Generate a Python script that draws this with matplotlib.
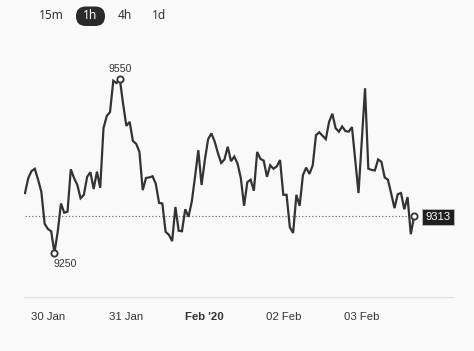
import matplotlib
matplotlib.use('Agg')
import matplotlib.pyplot as plt
import pandas as pd
from matplotlib.patches import FancyBboxPatch
from matplotlib.transforms import IdentityTransform

# ---- data ----
start_time = '2020-01-29 17:00'
prices = [
    9353, 9379, 9391, 9395, 9376, 9355, 9300, 9291, 9287, 9250,
    9286, 9335, 9319, 9321, 9394, 9379, 9367, 9344, 9350, 9381,
    9389, 9360, 9390, 9362, 9465, 9486, 9493, 9547, 9543, 9550,
    9507, 9469, 9476, 9443, 9438, 9424, 9358, 9379, 9380, 9382,
    9369, 9336, 9335, 9286, 9281, 9270, 9329, 9288, 9287, 9325,
    9312, 9338, 9381, 9427, 9367, 9410, 9446, 9456, 9442, 9422,
    9405, 9411, 9433, 9408, 9416, 9404, 9379, 9331, 9372, 9376,
    9357, 9424, 9412, 9409, 9381, 9401, 9395, 9399, 9410, 9350,
    9350, 9294, 9284, 9350, 9331, 9384, 9397, 9386, 9401, 9453,
    9458, 9452, 9446, 9476, 9490, 9465, 9459, 9468, 9460, 9459,
    9467, 9410, 9353, 9443, 9534, 9395, 9393, 9392, 9411, 9407,
    9380, 9376, 9352, 9327, 9351, 9353, 9325, 9346, 9282, 9313,
]
tick_dates = ['2020-01-30', '2020-01-31', '2020-02-01', '2020-02-02', '2020-02-03']
tick_labels = ['30 Jan', '31 Jan', "Feb '20", '02 Feb', '03 Feb']
range_buttons = ['15m', '1h', '4h', '1d']
active_button = '1h'
high_value = 9550
low_value = 9250
last_value = 9313

# ---- figure ----
W, H = 474, 351
BG = '#f9f9f9'
LINE = '#333333'
plt.rcParams['font.family'] = ['Liberation Sans', 'DejaVu Sans']

fig = plt.figure(figsize=(W / 100, H / 100), dpi=100, facecolor=BG)
ax = fig.add_axes([24 / W, (H - 297) / H, 429 / W, 297 / H])
ax.set_facecolor(BG)

times = pd.date_range(start=start_time, periods=len(prices), freq='h')
t0 = times[0]
ax.plot(times, prices, color=LINE, lw=1.6, solid_joinstyle='miter', zorder=3)

ax.set_xlim(t0 - pd.Timedelta(hours=0.31), t0 + pd.Timedelta(hours=130.9))
ax.set_ylim(9173.5, 9686.4)

# reference (last price) dotted line
ax.plot([times[0], times[-1]], [last_value, last_value], color='#777777',
        lw=0.8, ls=(0, (1.2, 1.8)), zorder=2)

# markers at high, low, last
hi_i = prices.index(high_value)
lo_i = prices.index(low_value)
for i in (hi_i, lo_i, len(prices) - 1):
    ax.plot(times[i], prices[i], 'o', ms=4.5, mfc='white', mec=LINE, mew=1.3, zorder=4)

ax.annotate(f'{high_value}', (times[hi_i], prices[hi_i]), xytext=(0, 7.5),
            textcoords='offset points', ha='center', va='center',
            fontsize=7.6, color=LINE)
ax.annotate(f'{low_value}', (times[lo_i], prices[lo_i]), xytext=(7.8, -8.2),
            textcoords='offset points', ha='center', va='center',
            fontsize=7.6, color=LINE)
ax.annotate(f'{last_value}', (times[-1], prices[-1]), xytext=(8.2, -0.5),
            textcoords='offset points', ha='left', va='center',
            fontsize=8.1, color='white',
            bbox=dict(boxstyle='square,pad=0.3', fc='#1f1f1f', ec='#bbbbbb', lw=0.6))

# axes styling
for s in ('left', 'right', 'top'):
    ax.spines[s].set_visible(False)
ax.spines['bottom'].set_color('#e0e0e0')
ax.spines['bottom'].set_linewidth(0.8)
ax.set_yticks([])
ax.set_xticks(pd.to_datetime(tick_dates))
ax.set_xticklabels(tick_labels)
ax.tick_params(axis='x', length=0, pad=10.5, labelsize=8.2, labelcolor='#333333')
for lab in ax.get_xticklabels():
    if lab.get_text() == "Feb '20":
        lab.set_fontweight('bold')

# range buttons
btn_x = [51, 90.5, 125, 159.5]
btn_y = 15.5
for name, bx in zip(range_buttons, btn_x):
    if name == active_button:
        pill = FancyBboxPatch((bx - 14.5, H - 26), 29, 19.5,
                              boxstyle='round,pad=0,rounding_size=9.7',
                              transform=IdentityTransform(),
                              fc='#2a2a2a', ec='none')
        fig.add_artist(pill)
        col = 'white'
    else:
        col = '#333333'
    fig.text(bx / W, 1 - btn_y / H, name, ha='center', va='center',
             fontsize=8.6, color=col, family=['Noto Sans', 'DejaVu Sans'])

fig.savefig('out.png', dpi=100, facecolor=BG)
